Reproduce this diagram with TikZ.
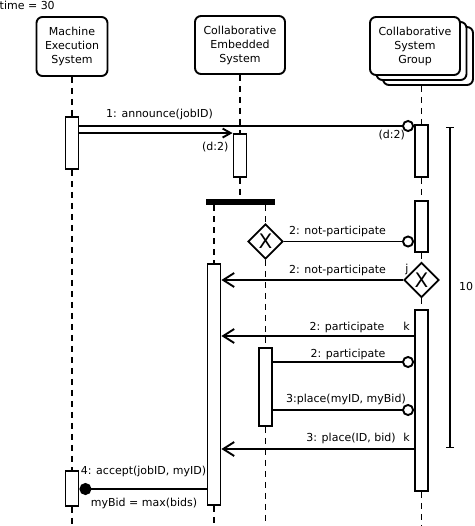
\documentclass[tikz,border=0pt]{standalone}
\usepackage{fontspec}
\setmainfont{DejaVu Sans}
\usetikzlibrary{arrows.meta,shapes.geometric}

\begin{document}
\begin{tikzpicture}[x=1pt,y=-1pt,
	every node/.style={font=\fontsize{11}{14}\selectfont},
	headnode/.style={draw,fill=white,rounded corners=6pt,line width=1.9pt,align=center,minimum width=90pt,minimum height=58pt,inner sep=0pt},
	actnode/.style={draw,fill=white,line width=1.9pt,minimum width=13pt,inner sep=0pt},
	killnode/.style={draw,fill=white,diamond,line width=1.9pt,minimum width=35pt,minimum height=35pt,inner sep=0pt,font=\fontsize{20}{20}\selectfont},
	forknode/.style={fill=black,minimum width=69pt,minimum height=6pt,inner sep=0pt},
	txtnode/.style={inner sep=0pt,anchor=base},
	lifeline/.style={line width=1.2pt,dash pattern=on 6pt off 5pt},
	msg/.style={line width=1.9pt},
	callmsg/.style={msg,-{Straight Barb[length=11pt,width=14pt]}},
	sendmsg/.style={msg,{Circle[open,length=12pt]}-},
	]
	\useasboundingbox (0,0) rectangle (474,526);
	\coordinate (bottom) at (0,526);
	
	\node[txtnode,anchor=base west] (time) at (-0.5,9.5) {time = 30};
	
	% the lifeline heads
	\node[headnode,minimum width=71pt,minimum height=59pt] (mes) at (72,46.5) {Machine\\Execution\\System};
	\node[headnode] (ces) at (240,45) {Collaborative\\Embedded\\System};
	\foreach \k in {2,1}
	\node[headnode] (csgback\k) at (415+6.5*\k,46+5*\k) {};
	\node[headnode] (csg) at (415,46) {Collaborative\\System\\Group};
	
	% the activations
	\node[actnode,minimum height=52pt] (mes1) at (72,143) {};
	\node[actnode,minimum height=35pt] (mes2) at (72,488.5) {};
	\node[actnode,minimum height=43pt] (ces1) at (240,155.5) {};
	\node[actnode,minimum height=241pt] (cesL) at (214,384.5) {};
	\node[actnode,minimum height=78pt] (cesR) at (265.5,387) {};
	\node[actnode,minimum height=52pt] (csg1) at (421.5,151) {};
	\node[actnode,minimum height=51pt] (csg2) at (421.5,226.5) {};
	\node[actnode,minimum height=181pt] (csg3) at (421.5,400.5) {};
	
	% fork and ends
	\node[forknode] (fork) at (240,202) {};
	\node[killnode] (kill1) at (265.5,241.5) {X};
	\node[killnode] (kill2) at (421.5,280) {X};
	
	% the lifelines
	\draw[lifeline] (mes) -- (mes1);
	\draw[lifeline] (mes1) -- (mes2);
	\draw[lifeline] (mes2) -- (mes2 |- bottom);
	\draw[lifeline] (ces) -- (ces1);
	\draw[lifeline] (ces1) -- (fork);
	\draw[lifeline] (fork.south -| cesL) -- (cesL);
	\draw[lifeline] (cesL) -- (cesL |- bottom);
	\draw[lifeline] (fork.south -| kill1) -- (kill1);
	\draw[lifeline] (kill1) -- (cesR);
	\draw[lifeline] (cesR) -- (cesR |- bottom);
	\draw[lifeline] (csgback2.south -| csg1) -- (csg1);
	\draw[lifeline] (csg1) -- (csg2);
	\draw[lifeline] (csg2) -- (kill2);
	\draw[lifeline] (kill2) -- (csg3);
	\draw[lifeline] (csg3) -- (csg3 |- bottom);
	
	% the messages
	\draw[sendmsg] (csg1.west |- 0,126) -- (mes1.east |- 0,126);
	\draw[msg,-{Straight Barb[length=8pt,width=9pt]}] (mes1.east |- ces1.north) -- (ces1.north west);
	\draw[sendmsg] (csg2.west |- kill1) -- (kill1.east);
	\draw[callmsg] (kill2.west) -- (kill2.west -| cesL.east);
	\draw[callmsg] (csg3.west |- 0,336) -- (cesL.east |- 0,336);
	\draw[sendmsg] (csg3.west |- 0,362) -- (cesR.east |- 0,362);
	\draw[sendmsg] (csg3.west |- 0,410) -- (cesR.east |- 0,410);
	\draw[callmsg] (csg3.west |- 0,449) -- (cesL.east |- 0,449);
	\draw[msg,-{Circle[length=12pt]}] (cesL.west |- 0,489) -- (mes2.east |- 0,489);
	
	% the labels
	\node[txtnode] (announce) at (159.5,118) {1: announce(jobID)};
	\node[txtnode,anchor=base east] (dces) at (228.5,151) {(d:2)};
	\node[txtnode,anchor=base east] (dcsg) at (405,139) {(d:2)};
	\node[txtnode] (notpart1) at (337.5,234) {2: not-participate};
	\node[txtnode] (notpart2) at (337.5,273) {2: not-participate};
	\node[txtnode,anchor=base east] (j) at (408.5,272) {j};
	\node[txtnode] (part1) at (347,330) {2: participate};
	\node[txtnode,anchor=base east] (k1) at (410,330) {k};
	\node[txtnode] (part2) at (348,357) {2: participate};
	\node[txtnode] (place1) at (346,402) {3:place(myID, myBid)};
	\node[txtnode] (place2) at (351,441) {3: place(ID, bid)};
	\node[txtnode,anchor=base east] (k2) at (410,441) {k};
	\node[txtnode] (accept) at (143.5,474) {4: accept(jobID, myID)};
	\node[txtnode] (maxbid) at (144,506) {myBid = max(bids)};
	
	% the duration
	\coordinate (durtop) at (450,127);
	\coordinate (durbot) at (450,448);
	\draw[line width=1.5pt,{Bar[width=8pt]}-{Bar[width=8pt]}] (durtop) -- (durbot);
	\node[txtnode,anchor=base west] (dur) at (459,290) {10};
\end{tikzpicture}
\end{document}
